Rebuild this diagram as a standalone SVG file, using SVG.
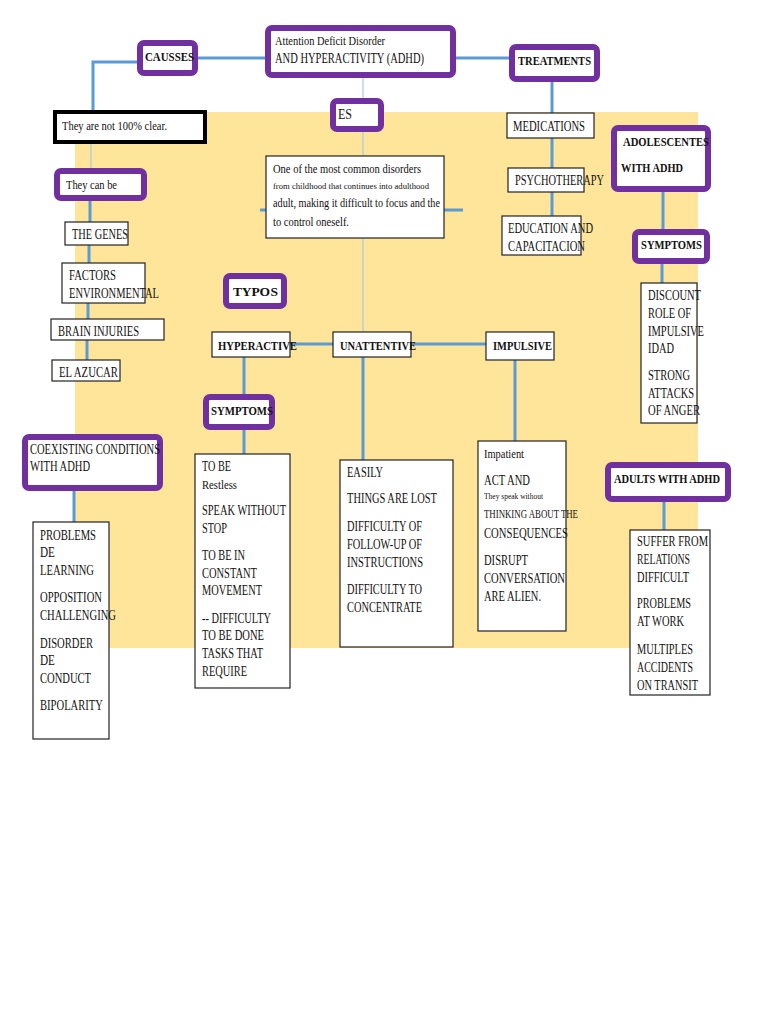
<svg xmlns="http://www.w3.org/2000/svg" width="768" height="1024" viewBox="0 0 768 1024">
<style>
.p{fill:#fff;stroke:#7030A0;stroke-width:6}
.b{fill:#fff;stroke:#222;stroke-width:1.2}
.k{fill:#fff;stroke:#000;stroke-width:4}
.ln{stroke:#5B9BD5;stroke-width:3;fill:none}
.th{stroke:#A9C7E6;stroke-width:1.2;fill:none}
text{font-family:"Liberation Serif","Times New Roman",serif;font-size:14px;fill:#111}
.bd{font-weight:bold;font-size:13.5px}
.sm{font-size:12px}
.xs{font-size:9px}
</style>
<rect x="0" y="0" width="768" height="1024" fill="#fff"/>
<rect x="75" y="112" width="623" height="536" fill="#FFE599"/>
<g id="connectors">
<line class="th" x1="363" y1="78" x2="363" y2="333"/>
<line class="th" x1="91" y1="144" x2="91" y2="169"/>
<line class="ln" x1="198" y1="58" x2="265" y2="58"/>
<polyline class="ln" points="137,62 93,62 93,110"/>
<line class="ln" x1="456" y1="58" x2="509" y2="58"/>
<line class="ln" x1="90" y1="201" x2="90" y2="222"/>
<line class="ln" x1="89" y1="245" x2="89" y2="263"/>
<line class="ln" x1="88" y1="303" x2="88" y2="319"/>
<line class="ln" x1="87" y1="340" x2="87" y2="360"/>
<line class="ln" x1="260" y1="210" x2="266" y2="210"/>
<line class="ln" x1="444" y1="210" x2="463" y2="210"/>
<line class="ln" x1="290" y1="344" x2="333" y2="344"/>
<line class="ln" x1="411" y1="344" x2="486" y2="344"/>
<line class="ln" x1="244" y1="357" x2="244" y2="394"/>
<line class="ln" x1="244" y1="430" x2="244" y2="454"/>
<line class="ln" x1="363" y1="357" x2="363" y2="460"/>
<line class="ln" x1="515" y1="360" x2="515" y2="441"/>
<line class="ln" x1="74" y1="491" x2="74" y2="522"/>
<line class="ln" x1="552" y1="82" x2="552" y2="113"/>
<line class="ln" x1="552" y1="138" x2="552" y2="168"/>
<line class="ln" x1="552" y1="192" x2="552" y2="216"/>
<line class="ln" x1="663" y1="192" x2="663" y2="229"/>
<line class="ln" x1="662" y1="264" x2="662" y2="283"/>
<line class="ln" x1="664" y1="502" x2="664" y2="530"/>
</g>
<g id="title"><rect class="p" x="268" y="28" width="185" height="47" rx="4"/>
<text x="275" y="45" class="sm" textLength="110" lengthAdjust="spacingAndGlyphs">Attention Deficit Disorder</text>
<text x="275" y="63" textLength="149" lengthAdjust="spacingAndGlyphs">AND HYPERACTIVITY (ADHD)</text></g>
<g id="causses"><rect class="p" x="140" y="43" width="55" height="30" rx="4"/>
<text x="145" y="61" class="bd" textLength="49" lengthAdjust="spacingAndGlyphs">CAUSSES</text></g>
<g id="notclear"><rect class="k" x="55" y="112" width="150" height="30"/>
<text x="62" y="130" class="sm" textLength="105" lengthAdjust="spacingAndGlyphs">They are not 100% clear.</text></g>
<g id="canbe"><rect class="p" x="57" y="171" width="87" height="27" rx="4"/>
<text x="66" y="189" class="sm" textLength="51" lengthAdjust="spacingAndGlyphs">They can be</text></g>
<g id="genes"><rect class="b" x="65" y="222" width="63" height="23"/>
<text x="72" y="239" textLength="56" lengthAdjust="spacingAndGlyphs">THE GENES</text></g>
<g id="factors"><rect class="b" x="62" y="263" width="83" height="40"/>
<text x="69" y="280" textLength="47" lengthAdjust="spacingAndGlyphs">FACTORS</text>
<text x="69" y="298" textLength="90" lengthAdjust="spacingAndGlyphs">ENVIRONMENTAL</text></g>
<g id="brain"><rect class="b" x="51" y="319" width="113" height="21"/>
<text x="58" y="336" textLength="81" lengthAdjust="spacingAndGlyphs">BRAIN INJURIES</text></g>
<g id="azucar"><rect class="b" x="52" y="360" width="68" height="21"/>
<text x="59" y="377" textLength="59" lengthAdjust="spacingAndGlyphs">EL AZUCAR</text></g>
<g id="es"><rect class="p" x="333" y="101" width="48" height="28" rx="4"/>
<text x="338" y="119" textLength="14" lengthAdjust="spacingAndGlyphs">ES</text></g>
<g id="desc"><rect class="b" x="266" y="156" width="178" height="82"/>
<text x="273" y="173" class="sm" textLength="148" lengthAdjust="spacingAndGlyphs">One of the most common disorders</text>
<text x="273" y="189" class="xs" textLength="156" lengthAdjust="spacingAndGlyphs">from childhood that continues into adulthood</text>
<text x="273" y="207" class="sm" textLength="167" lengthAdjust="spacingAndGlyphs">adult, making it difficult to focus and the</text>
<text x="273" y="226" class="sm" textLength="76" lengthAdjust="spacingAndGlyphs">to control oneself.</text></g>
<g id="typos"><rect class="p" x="226" y="276" width="58" height="30" rx="4"/>
<text x="233" y="296" class="bd" textLength="45" lengthAdjust="spacing">T Y P O S</text></g>
<g id="hyperactive"><rect class="b" x="212" y="332" width="78" height="25"/>
<text x="218" y="350" class="bd" textLength="79" lengthAdjust="spacingAndGlyphs">HYPERACTIVE</text></g>
<g id="unattentive"><rect class="b" x="333" y="332" width="78" height="25"/>
<text x="340" y="350" class="bd" textLength="76" lengthAdjust="spacingAndGlyphs">UNATTENTIVE</text></g>
<g id="impulsive"><rect class="b" x="486" y="332" width="68" height="28"/>
<text x="493" y="350" class="bd" textLength="59" lengthAdjust="spacingAndGlyphs">IMPULSIVE</text></g>
<g id="symptomsL"><rect class="p" x="206" y="397" width="66" height="30" rx="4"/>
<text x="211" y="415" class="bd" textLength="62" lengthAdjust="spacingAndGlyphs">SYMPTOMS</text></g>
<g id="hyperList"><rect class="b" x="195" y="454" width="95" height="234"/>
<text x="202" y="471" textLength="29" lengthAdjust="spacingAndGlyphs">TO BE</text>
<text x="202" y="489" class="sm" textLength="35" lengthAdjust="spacingAndGlyphs">Restless</text>
<text x="202" y="515" textLength="84" lengthAdjust="spacingAndGlyphs">SPEAK WITHOUT</text>
<text x="202" y="533" textLength="25" lengthAdjust="spacingAndGlyphs">STOP</text>
<text x="202" y="560" textLength="43" lengthAdjust="spacingAndGlyphs">TO BE IN</text>
<text x="202" y="578" textLength="55" lengthAdjust="spacingAndGlyphs">CONSTANT</text>
<text x="202" y="595" textLength="60" lengthAdjust="spacingAndGlyphs">MOVEMENT</text>
<text x="202" y="623" textLength="69" lengthAdjust="spacingAndGlyphs">-- DIFFICULTY</text>
<text x="202" y="640" textLength="62" lengthAdjust="spacingAndGlyphs">TO BE DONE</text>
<text x="202" y="658" textLength="61" lengthAdjust="spacingAndGlyphs">TASKS THAT</text>
<text x="202" y="676" textLength="45" lengthAdjust="spacingAndGlyphs">REQUIRE</text></g>
<g id="unattList"><rect class="b" x="340" y="460" width="113" height="187"/>
<text x="347" y="477" textLength="36" lengthAdjust="spacingAndGlyphs">EASILY</text>
<text x="347" y="503" textLength="90" lengthAdjust="spacingAndGlyphs">THINGS ARE LOST</text>
<text x="347" y="531" textLength="75" lengthAdjust="spacingAndGlyphs">DIFFICULTY OF</text>
<text x="347" y="549" textLength="75" lengthAdjust="spacingAndGlyphs">FOLLOW-UP OF</text>
<text x="347" y="567" textLength="76" lengthAdjust="spacingAndGlyphs">INSTRUCTIONS</text>
<text x="347" y="594" textLength="75" lengthAdjust="spacingAndGlyphs">DIFFICULTY TO</text>
<text x="347" y="612" textLength="75" lengthAdjust="spacingAndGlyphs">CONCENTRATE</text></g>
<g id="impList"><rect class="b" x="478" y="441" width="88" height="190"/>
<text x="484" y="458" class="sm" textLength="40" lengthAdjust="spacingAndGlyphs">Impatient</text>
<text x="484" y="485" textLength="46" lengthAdjust="spacingAndGlyphs">ACT AND</text>
<text x="484" y="499" class="xs" textLength="59" lengthAdjust="spacingAndGlyphs">They speak without</text>
<text x="484" y="518" class="sm" textLength="94" lengthAdjust="spacingAndGlyphs">THINKING ABOUT THE</text>
<text x="484" y="538" textLength="84" lengthAdjust="spacingAndGlyphs">CONSEQUENCES</text>
<text x="484" y="565" textLength="44" lengthAdjust="spacingAndGlyphs">DISRUPT</text>
<text x="484" y="583" textLength="81" lengthAdjust="spacingAndGlyphs">CONVERSATION</text>
<text x="484" y="601" textLength="57" lengthAdjust="spacingAndGlyphs">ARE ALIEN.</text></g>
<g id="coexisting"><rect class="p" x="25" y="437" width="135" height="51" rx="4"/>
<text x="30" y="454" textLength="130" lengthAdjust="spacingAndGlyphs">COEXISTING CONDITIONS</text>
<text x="30" y="471" textLength="60" lengthAdjust="spacingAndGlyphs">WITH ADHD</text></g>
<g id="coexList"><rect class="b" x="33" y="522" width="76" height="217"/>
<text x="40" y="540" textLength="56" lengthAdjust="spacingAndGlyphs">PROBLEMS</text>
<text x="40" y="557" textLength="15" lengthAdjust="spacingAndGlyphs">DE</text>
<text x="40" y="575" textLength="54" lengthAdjust="spacingAndGlyphs">LEARNING</text>
<text x="40" y="602" textLength="62" lengthAdjust="spacingAndGlyphs">OPPOSITION</text>
<text x="40" y="620" textLength="76" lengthAdjust="spacingAndGlyphs">CHALLENGING</text>
<text x="40" y="648" textLength="53" lengthAdjust="spacingAndGlyphs">DISORDER</text>
<text x="40" y="665" textLength="15" lengthAdjust="spacingAndGlyphs">DE</text>
<text x="40" y="683" textLength="51" lengthAdjust="spacingAndGlyphs">CONDUCT</text>
<text x="40" y="710" textLength="63" lengthAdjust="spacingAndGlyphs">BIPOLARITY</text></g>
<g id="treatments"><rect class="p" x="512" y="47" width="85" height="32" rx="4"/>
<text x="518" y="65" class="bd" textLength="73" lengthAdjust="spacingAndGlyphs">TREATMENTS</text></g>
<g id="medications"><rect class="b" x="507" y="113" width="87" height="25"/>
<text x="513" y="131" textLength="72" lengthAdjust="spacingAndGlyphs">MEDICATIONS</text></g>
<g id="psychotherapy"><rect class="b" x="508" y="168" width="76" height="24"/>
<text x="515" y="185" textLength="89" lengthAdjust="spacingAndGlyphs">PSYCHOTHERAPY</text></g>
<g id="education"><rect class="b" x="502" y="216" width="79" height="39"/>
<text x="508" y="233" textLength="85" lengthAdjust="spacingAndGlyphs">EDUCATION AND</text>
<text x="508" y="251" textLength="77" lengthAdjust="spacingAndGlyphs">CAPACITACION</text></g>
<g id="adolescentes"><rect class="p" x="614" y="128" width="94" height="61" rx="4"/>
<text x="623" y="146" class="bd" textLength="86" lengthAdjust="spacingAndGlyphs">ADOLESCENTES</text>
<text x="621" y="172" class="bd" textLength="62" lengthAdjust="spacingAndGlyphs">WITH ADHD</text></g>
<g id="symptomsR"><rect class="p" x="635" y="232" width="72" height="29" rx="4"/>
<text x="641" y="249" class="bd" textLength="61" lengthAdjust="spacingAndGlyphs">SYMPTOMS</text></g>
<g id="adolList"><rect class="b" x="641" y="283" width="56" height="140"/>
<text x="648" y="300" textLength="53" lengthAdjust="spacingAndGlyphs">DISCOUNT</text>
<text x="648" y="318" textLength="43" lengthAdjust="spacingAndGlyphs">ROLE OF</text>
<text x="648" y="336" textLength="56" lengthAdjust="spacingAndGlyphs">IMPULSIVE</text>
<text x="648" y="353" textLength="26" lengthAdjust="spacingAndGlyphs">IDAD</text>
<text x="648" y="380" textLength="42" lengthAdjust="spacingAndGlyphs">STRONG</text>
<text x="648" y="398" textLength="46" lengthAdjust="spacingAndGlyphs">ATTACKS</text>
<text x="648" y="415" textLength="52" lengthAdjust="spacingAndGlyphs">OF ANGER</text></g>
<g id="adults"><rect class="p" x="608" y="465" width="120" height="34" rx="4"/>
<text x="614" y="483" class="bd" textLength="106" lengthAdjust="spacingAndGlyphs">ADULTS WITH ADHD</text></g>
<g id="adultList"><rect class="b" x="630" y="530" width="80" height="165"/>
<text x="637" y="546" textLength="71" lengthAdjust="spacingAndGlyphs">SUFFER FROM</text>
<text x="637" y="564" textLength="53" lengthAdjust="spacingAndGlyphs">RELATIONS</text>
<text x="637" y="582" textLength="52" lengthAdjust="spacingAndGlyphs">DIFFICULT</text>
<text x="637" y="608" textLength="54" lengthAdjust="spacingAndGlyphs">PROBLEMS</text>
<text x="637" y="626" textLength="47" lengthAdjust="spacingAndGlyphs">AT WORK</text>
<text x="637" y="654" textLength="56" lengthAdjust="spacingAndGlyphs">MULTIPLES</text>
<text x="637" y="672" textLength="56" lengthAdjust="spacingAndGlyphs">ACCIDENTS</text>
<text x="637" y="690" textLength="61" lengthAdjust="spacingAndGlyphs">ON TRANSIT</text></g>
</svg>
